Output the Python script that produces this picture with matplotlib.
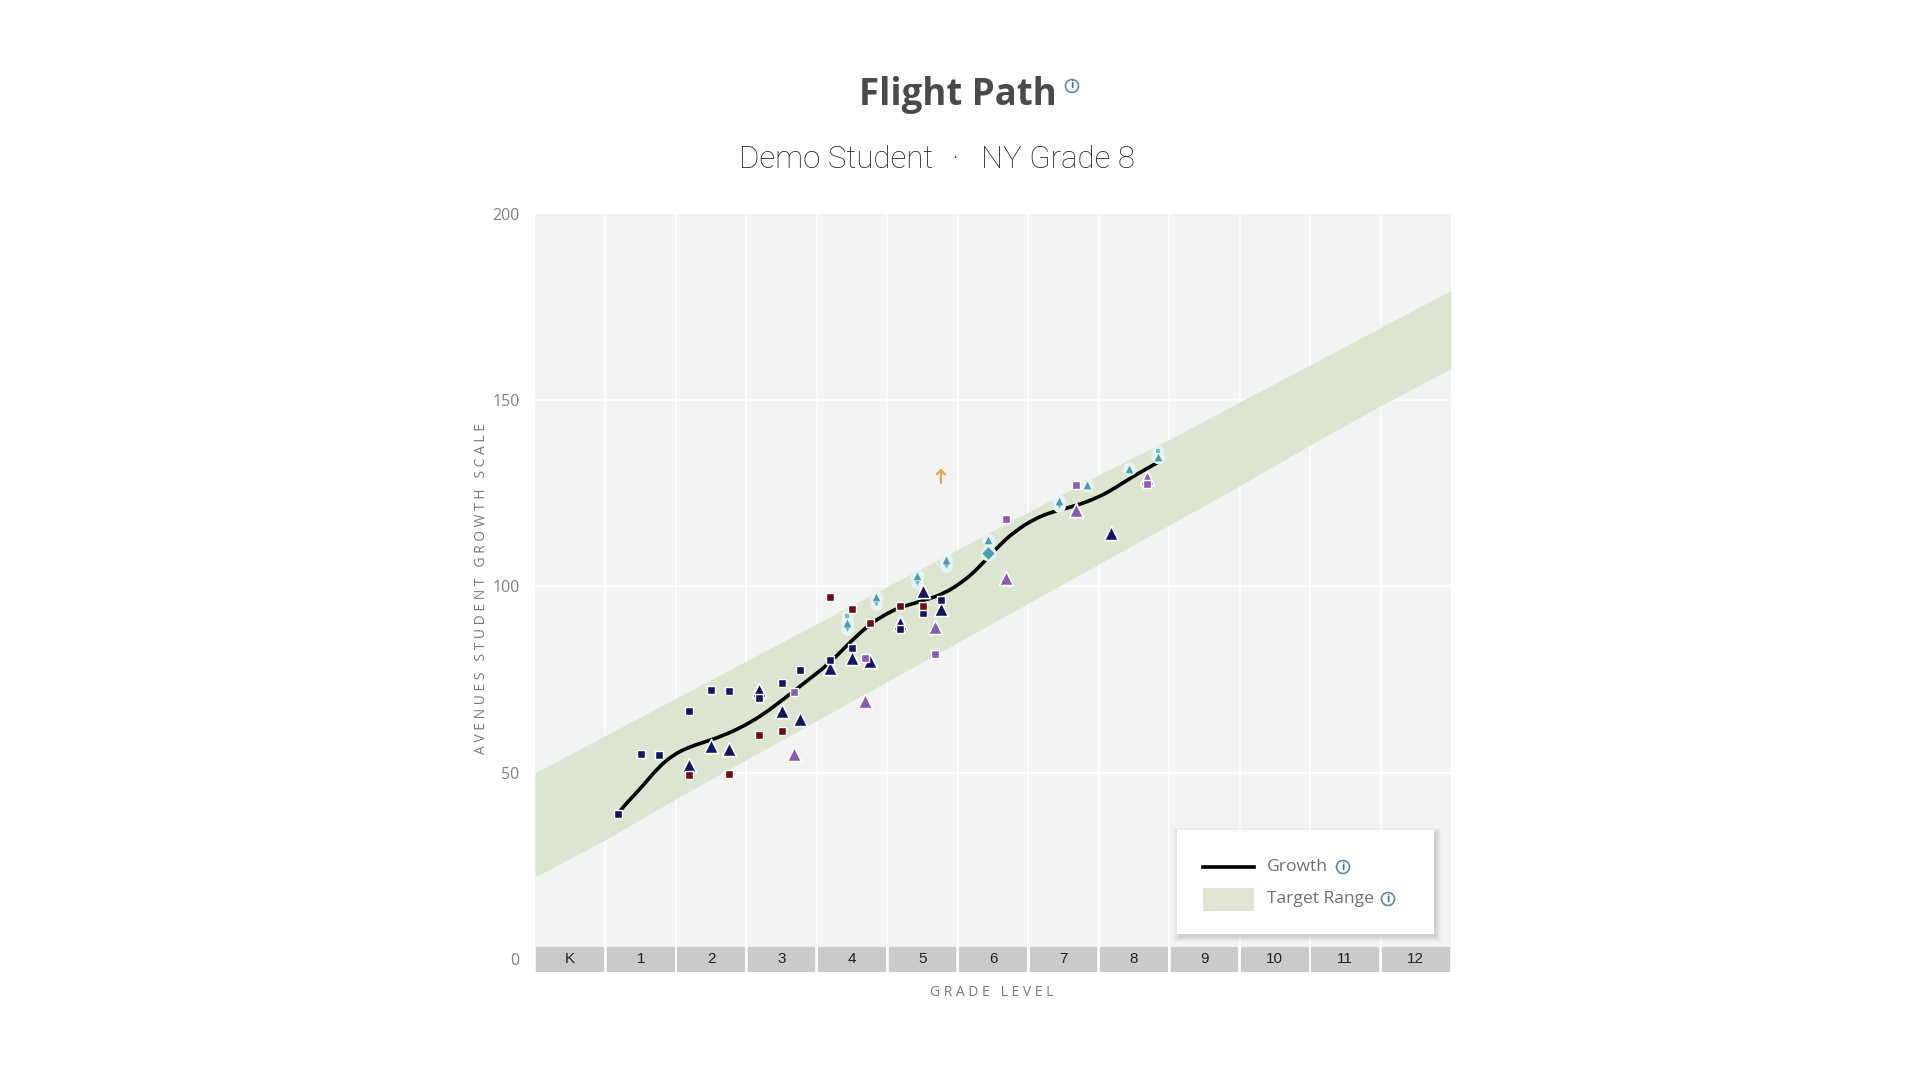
import numpy as np
import matplotlib
matplotlib.use('Agg')
import matplotlib.pyplot as plt
from matplotlib.patches import Rectangle, Circle, PathPatch
from matplotlib.path import Path

# grade columns
grades = ['K', '1', '2', '3', '4', '5', '6', '7', '8', '9', '10', '11', '12']
yticks = [0, 50, 100, 150, 200]

# target range edges
band_x = [0, 1, 2, 3, 4, 5, 6, 7, 8, 9, 10, 11, 12, 13]
band_hi = [50, 60, 70, 80, 90, 100, 110, 120, 130, 139.5, 149.5, 159.5, 169.5, 179.5]
band_lo = [22, 32, 43, 53.5, 64, 74.5, 85, 95.5, 106, 116.5, 127, 138, 148.5, 158.5]

# growth line
growth_x = [1.18, 1.25, 1.40, 1.58, 1.75, 1.96, 2.20, 2.50, 2.75, 3.00, 3.25, 3.51, 3.85, 4.18, 4.50, 4.76,
            5.00, 5.18, 5.51, 5.80, 6.08, 6.25, 6.43, 6.60, 6.79, 7.08, 7.35, 7.68, 7.95, 8.17, 8.50, 8.83]
growth_y = [38.9, 40.8, 43.8, 47.6, 51.4, 54.8, 57.0, 58.8, 60.6, 62.9, 65.8, 69.5, 74.5, 79.4, 85.6, 90.0,
            92.8, 94.4, 96.2, 98.0, 101.4, 104.2, 107.8, 111.2, 114.5, 118.1, 120.1, 121.7, 123.6, 125.7, 129.7, 133.2]

# navy squares
navy_sq_x = [1.18, 1.50, 1.755, 2.18, 2.50, 2.755, 3.18, 3.51, 3.755, 4.18, 4.50, 5.18, 5.51, 5.76]
navy_sq_y = [38.9, 55.0, 54.8, 66.6, 72.3, 71.9, 70.1, 74.1, 77.5, 80.3, 83.5, 88.7, 93.0, 96.3]

# navy triangles
navy_tri_x = [2.18, 2.50, 2.755, 3.18, 3.51, 3.755, 4.18, 4.50, 4.755, 5.18, 5.51, 5.76, 8.18]
navy_tri_y = [52.1, 57.1, 56.5, 72.3, 66.7, 64.4, 78.1, 80.7, 80.1, 90.3, 98.9, 93.9, 114.3]

# dark red squares
red_sq_x = [2.18, 2.755, 3.18, 3.51, 4.18, 4.50, 4.755, 5.18, 5.51]
red_sq_y = [49.3, 49.6, 60.2, 61.2, 97.2, 93.9, 90.2, 94.7, 94.7]

# purple squares and triangles
purple_x = [3.675, 4.68, 5.68, 6.68, 7.68, 8.68]
purple_sq_y = [71.8, 80.8, 82.0, 118.0, 127.2, 127.4]
purple_tri_y = [55.0, 69.3, 89.1, 102.2, 120.5, 129.2]

# teal markers
teal_up_x = [4.43, 4.835, 5.42, 5.835, 6.43, 7.43, 7.84, 8.43, 8.845]
teal_up_y = [90.3, 97.1, 102.7, 107.1, 112.5, 123.0, 127.2, 131.5, 134.8]
teal_dn_x = [4.43, 4.835, 5.42, 5.835, 7.43]
teal_dn_y = [88.7, 95.3, 101.0, 105.4, 121.6]
teal_top_x = [4.43, 8.845]
teal_top_y = [92.0, 136.3]
teal_dia_x = [6.43]
teal_dia_y = [109.0]

# single above-range marker
arrow_x = 5.76
arrow_y = 129.7

W, H = 1920, 1080
NAVY = '#14155f'
RED = '#6a0f14'
PURPLE = '#8a5bb0'
TEAL = '#4f9bab'
PALE = '#e6f3f4'
GREY = '#808080'

plt.rcParams['font.family'] = ['Open Sans', 'DejaVu Sans']


def fx(x):
    return x / W


def fy(y):
    return 1 - y / H


def info(x, y):
    fig.add_artist(Circle((x, H - y), 6.5, transform=None, fc='white', ec='#5f8aa8', lw=1.2, zorder=10))
    fig.text(fx(x), fy(y), 'i', ha='center', va='center', fontsize=8, fontweight='bold', color='#4d6f8a', zorder=11)


fig = plt.figure(figsize=(19.2, 10.8), dpi=100)
ax = fig.add_axes([fx(535), fy(972), 916 / W, (972 - 214) / H])
ax.set_facecolor('#f3f3f3')
ax.set_xlim(0, 13)
ax.set_ylim(-3.5, 199.2)
for s in ax.spines.values():
    s.set_visible(False)
ax.tick_params(length=0)
ax.set_xticks([])
ax.set_yticks(yticks)
ax.set_yticklabels([str(v) for v in yticks], fontsize=11.5, color=GREY)
ax.tick_params(axis='y', pad=11)

for i in range(1, 13):
    ax.axvline(i, color='white', lw=1.2, zorder=1)
for v in yticks[1:4]:
    ax.axhline(v, color='white', lw=1.2, zorder=1)

ax.fill_between(band_x, band_lo, band_hi, color='#dbe4cc', alpha=0.92, lw=0, zorder=2)

ax.bar(np.arange(13) + 0.5, 6.7, width=0.96, bottom=-3.5, color='#cacaca', zorder=2.5)
for i, g in enumerate(grades):
    ax.text(i + 0.5, -0.1, g, ha='center', va='center', fontsize=11, family='Liberation Sans', color='#222222', zorder=3)

# rounded growth curve: read points act as quadratic control points
pts = np.column_stack([growth_x, growth_y])
mids = (pts[1:] + pts[:-1]) / 2
verts = [pts[0], mids[0]]
codes = [Path.MOVETO, Path.LINETO]
for p, m in zip(pts[1:-1], mids[1:]):
    verts += [p, m]
    codes += [Path.CURVE3, Path.CURVE3]
verts.append(pts[-1])
codes.append(Path.LINETO)
ax.add_patch(PathPatch(Path(verts, codes), fc='none', ec='black', lw=2.6, capstyle='round', joinstyle='round', zorder=3))

# teal halos first, so markers sit on top
ax.scatter(teal_up_x, teal_up_y, s=95, color=PALE, lw=0, zorder=4)
ax.scatter(teal_dn_x, teal_dn_y, s=85, color=PALE, lw=0, zorder=4)
ax.scatter(teal_top_x, teal_top_y, s=70, color=PALE, lw=0, zorder=4)
ax.scatter(teal_dia_x, teal_dia_y, s=130, color=PALE, lw=0, zorder=4)
ax.scatter(teal_dn_x, teal_dn_y, s=12, marker='v', color='#79b8c4', lw=0, zorder=5)
ax.scatter(teal_top_x, teal_top_y, s=10, marker='s', color='#79b8c4', lw=0, zorder=5)
ax.scatter(teal_dia_x, teal_dia_y, s=40, marker='D', color=TEAL, lw=0, zorder=5)
ax.scatter(teal_up_x, teal_up_y, s=30, marker='^', color=TEAL, lw=0, zorder=5)

ax.scatter(navy_tri_x, navy_tri_y, s=105, marker='^', color=NAVY, edgecolors='white', lw=1.2, zorder=6)
ax.scatter(purple_x, purple_tri_y, s=105, marker='^', color=PURPLE, edgecolors='white', lw=1.2, zorder=6)
ax.scatter(navy_sq_x, navy_sq_y, s=38, marker='s', color=NAVY, edgecolors='white', lw=1, zorder=7)
ax.scatter(red_sq_x, red_sq_y, s=38, marker='s', color=RED, edgecolors='white', lw=1, zorder=7)
ax.scatter(purple_x, purple_sq_y, s=38, marker='s', color=PURPLE, edgecolors='white', lw=1, zorder=7)

ax.annotate('', xy=(arrow_x, arrow_y + 1.9), xytext=(arrow_x, arrow_y - 1.9),
            arrowprops=dict(arrowstyle='->,head_width=0.3,head_length=0.3', color='#d9a441', lw=1.5, shrinkA=0, shrinkB=0))

# titles
fig.text(fx(958), fy(95), 'Flight Path', ha='center', va='center', fontsize=26.4, fontweight='bold', color='#4a4a4a')
info(1072, 86)
sub = dict(va='center', fontsize=22.5, family='Roboto', fontweight='light', color='#222222')
fig.text(fx(739), fy(159), 'Demo Student', ha='left', **sub)
fig.text(fx(955), fy(159), '·', ha='center', **sub)
fig.text(fx(981), fy(159), 'NY Grade 8', ha='left', **sub)

# axis captions, letterspaced by hand
gap = '\u2009\u200a'
fig.text(fx(992), fy(992), gap.join('GRADE LEVEL'), ha='center', va='center', fontsize=10, color='#777777')
fig.text(fx(481), fy(589), gap.join('AVENUES STUDENT GROWTH SCALE'), ha='center', va='center',
         rotation=90, fontsize=10, color='#777777')

# legend card with soft shadow
for k in range(6, 0, -1):
    fig.add_artist(Rectangle((1177 - k + 3, H - 934 - k - 2), 257 + 2 * k - 2, 104 + 2 * k - 2, transform=None,
                             fc='black', ec='none', alpha=0.022, zorder=8))
fig.add_artist(Rectangle((1177, H - 934), 257, 104, transform=None, fc='white', ec='none', zorder=9))
fig.add_artist(plt.Line2D([1203, 1254], [H - 866.5, H - 866.5], transform=None, color='black', lw=2.6, zorder=10))
fig.add_artist(Rectangle((1203, H - 911), 51, 23, transform=None, fc='#dfe5d2', ec='none', zorder=10))
fig.text(fx(1267), fy(867), 'Growth', va='center', fontsize=12.6, color='#6f6f6f', zorder=10)
fig.text(fx(1267), fy(899), 'Target Range', va='center', fontsize=12.6, color='#6f6f6f', zorder=10)
info(1343, 867)
info(1388, 899)

fig.savefig('out.png', dpi=100)
